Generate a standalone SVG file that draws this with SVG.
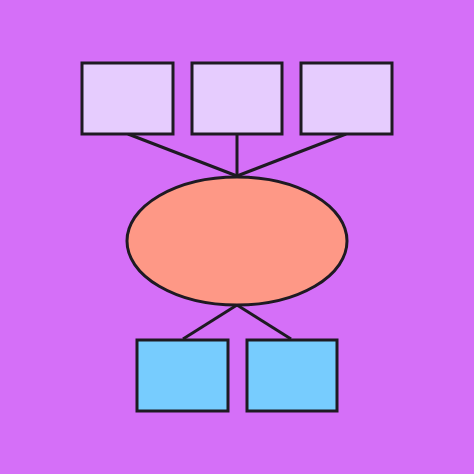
<svg xmlns="http://www.w3.org/2000/svg" width="474" height="474" viewBox="0 0 474 474">
<style>
.s{stroke:#1e1a22;stroke-width:3}
.top{fill:#e6ccfe}
.bot{fill:#77ccfe}
.ell{fill:#fe9886}
.ln{stroke:#1e1a22;stroke-width:3;fill:none}
</style>
<rect width="474" height="474" fill="#d56ff8"/>
<g id="connectors">
<line class="ln" x1="128" y1="134" x2="237" y2="176"/>
<line class="ln" x1="237" y1="134" x2="237" y2="176"/>
<line class="ln" x1="346" y1="134" x2="237" y2="176"/>
<line class="ln" x1="237" y1="305" x2="183" y2="339"/>
<line class="ln" x1="237" y1="305" x2="291" y2="339"/>
</g>
<g id="top1"><rect class="s top" x="82" y="63" width="91" height="71"/></g>
<g id="top2"><rect class="s top" x="192" y="63" width="90" height="71"/></g>
<g id="top3"><rect class="s top" x="301" y="63" width="91" height="71"/></g>
<g id="center"><ellipse class="s ell" cx="237" cy="241" rx="110" ry="64"/></g>
<g id="bot1"><rect class="s bot" x="137" y="340" width="91" height="71"/></g>
<g id="bot2"><rect class="s bot" x="247" y="340" width="90" height="71"/></g>
</svg>
